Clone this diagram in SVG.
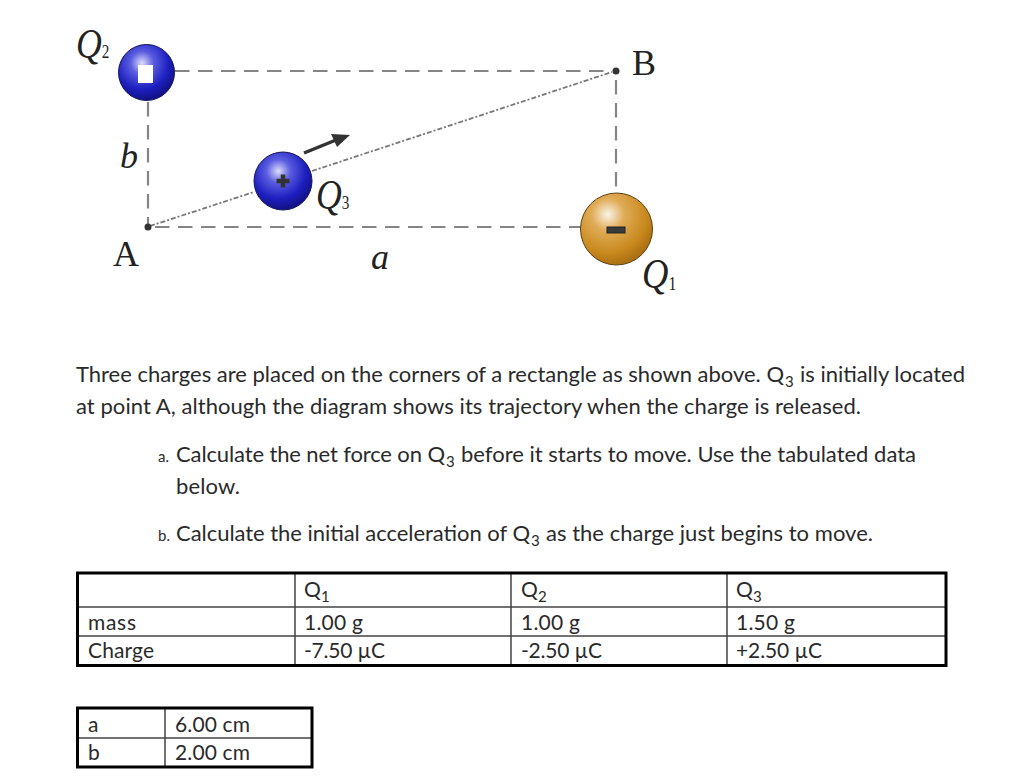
<svg xmlns="http://www.w3.org/2000/svg" width="1024" height="780" viewBox="0 0 1024 780">
<style>
.t{font-family:Lato,"Open Sans",sans-serif;font-size:22px;fill:#2a2a2a}
.c{font-family:Lato,"Open Sans",sans-serif;font-size:21px;fill:#2a2a2a}
.s{font-family:Lato,"Open Sans",sans-serif;font-size:15px;fill:#2a2a2a}
.i{font-family:"Liberation Serif",serif;font-style:italic;fill:#222}
.r{font-family:"Liberation Serif",serif;fill:#222}
.u{font-style:normal;font-size:18px}
.d{stroke:#858585;stroke-width:2.2;stroke-dasharray:14.500 8.500;fill:none}
.p{stroke:#777;stroke-width:1.8;stroke-dasharray:5 2 2 2;fill:none}
.o{fill:none;stroke:#000;stroke-width:3}
.g{stroke:#444;stroke-width:1.5;fill:none}
</style>
<defs>
<radialGradient id="blue" cx="0.42" cy="0.33" r="0.65"><stop offset="0" stop-color="#dcdcf8"/><stop offset="0.32" stop-color="#5a5ce0"/><stop offset="0.72" stop-color="#1e20c0"/><stop offset="1" stop-color="#12128a"/></radialGradient>
<radialGradient id="gold" cx="0.38" cy="0.3" r="0.7"><stop offset="0" stop-color="#faf4e8"/><stop offset="0.32" stop-color="#e0ac58"/><stop offset="0.75" stop-color="#c98a1e"/><stop offset="1" stop-color="#ad7012"/></radialGradient>
</defs>
<rect width="1024" height="780" fill="#fff"/>
<g id="connectors">
<path class="d" d="M175 71H612"/>
<path class="d" d="M148 102V224"/>
<path class="d" d="M616 80V188"/>
<path class="d" d="M155 227H581"/>
<path class="p" d="M150 226L254 192"/>
<path class="p" d="M312 171L612 72"/>
<path d="M304 153L336 140" stroke="#333" stroke-width="3.500" fill="none"/>
<path d="M350 135L331 134L337 147Z" fill="#333"/>
</g>
<g id="point-A"><circle cx="148" cy="227" r="3.500" fill="#333"/><text class="r" x="113" y="266" font-size="36">A</text></g>
<g id="point-B"><circle cx="616" cy="71" r="3.500" fill="#333"/><text class="r" x="632" y="75" font-size="36">B</text></g>
<g id="q2"><circle cx="146.500" cy="72.500" r="28" fill="url(#blue)" stroke="#14145a" stroke-width="1"/><rect x="138" y="65" width="15" height="18" fill="#fff"/><text class="i" transform="translate(76 58) scale(.85 1)" font-size="42">Q<tspan class="u">2</tspan></text></g>
<g id="q3"><circle cx="283" cy="181" r="29" fill="url(#blue)" stroke="#14145a" stroke-width="1"/><path d="M283 174.500V187.500M276.500 181H289.500" stroke="#333" stroke-width="4.500"/><text class="i" transform="translate(316 209) scale(.85 1)" font-size="42">Q<tspan class="u">3</tspan></text></g>
<g id="q1"><circle cx="616.500" cy="229" r="36" fill="url(#gold)" stroke="#5a4016" stroke-width="1"/><rect x="607" y="227" width="18" height="6" fill="#3a3a3a" stroke="#222" stroke-width="1"/><text class="i" transform="translate(642 288) scale(.87 1)" font-size="42">Q<tspan class="u" dy="2">1</tspan></text></g>
<text class="i" x="120" y="168" font-size="36">b</text>
<text class="i" x="371" y="269" font-size="36">a</text>
<g id="text">
<text class="t" x="76" y="382" textLength="708" lengthAdjust="spacing">Three charges are placed on the corners of a rectangle as shown above. Q</text>
<text class="s" x="785" y="387">3</text>
<text class="t" x="800" y="382" textLength="165" lengthAdjust="spacing">is initially located</text>
<text class="t" x="76" y="414" textLength="785" lengthAdjust="spacing">at point A, although the diagram shows its trajectory when the charge is released.</text>
<text class="s" x="158" y="462" font-size="17">a.</text>
<text class="t" x="176" y="462" textLength="269" lengthAdjust="spacing">Calculate the net force on Q</text>
<text class="s" x="446" y="467">3</text>
<text class="t" x="461" y="462" textLength="455" lengthAdjust="spacing">before it starts to move. Use the tabulated data</text>
<text class="t" x="176" y="494" textLength="64" lengthAdjust="spacing">below.</text>
<text class="s" x="158" y="541">b.</text>
<text class="t" x="176" y="541" textLength="354" lengthAdjust="spacing">Calculate the initial acceleration of Q</text>
<text class="s" x="531" y="546">3</text>
<text class="t" x="546" y="541" textLength="327" lengthAdjust="spacing">as the charge just begins to move.</text>
</g>
<g id="table-1">
<path class="g" d="M77 607H946M77 636H946M295 573V665M511 573V665M727 573V665"/>
<rect class="o" x="77.500" y="573" width="868.500" height="92.500"/>
<text class="c" x="304" y="597">Q</text><text class="s" x="321" y="602">1</text>
<text class="c" x="521" y="597">Q</text><text class="s" x="538" y="602">2</text>
<text class="c" x="736" y="597">Q</text><text class="s" x="753" y="602">3</text>
<text class="c" x="88" y="630" textLength="48" lengthAdjust="spacing">mass</text>
<text class="c" x="304" y="630" textLength="59" lengthAdjust="spacing">1.00 g</text>
<text class="c" x="521" y="630" textLength="59" lengthAdjust="spacing">1.00 g</text>
<text class="c" x="736" y="630" textLength="59" lengthAdjust="spacing">1.50 g</text>
<text class="c" x="88" y="658" textLength="66" lengthAdjust="spacing">Charge</text>
<text class="c" x="304" y="658" textLength="81" lengthAdjust="spacing">-7.50 µC</text>
<text class="c" x="521" y="658" textLength="81" lengthAdjust="spacing">-2.50 µC</text>
<text class="c" x="736" y="658" textLength="86" lengthAdjust="spacing">+2.50 µC</text>
</g>
<g id="table-2">
<path class="g" d="M77 738H312M165 708V767"/>
<rect class="o" x="77.500" y="708" width="234.500" height="59"/>
<text class="c" x="88" y="732">a</text>
<text class="c" x="175" y="732" textLength="75" lengthAdjust="spacing">6.00 cm</text>
<text class="c" x="88" y="760">b</text>
<text class="c" x="175" y="760" textLength="75" lengthAdjust="spacing">2.00 cm</text>
</g>
</svg>
